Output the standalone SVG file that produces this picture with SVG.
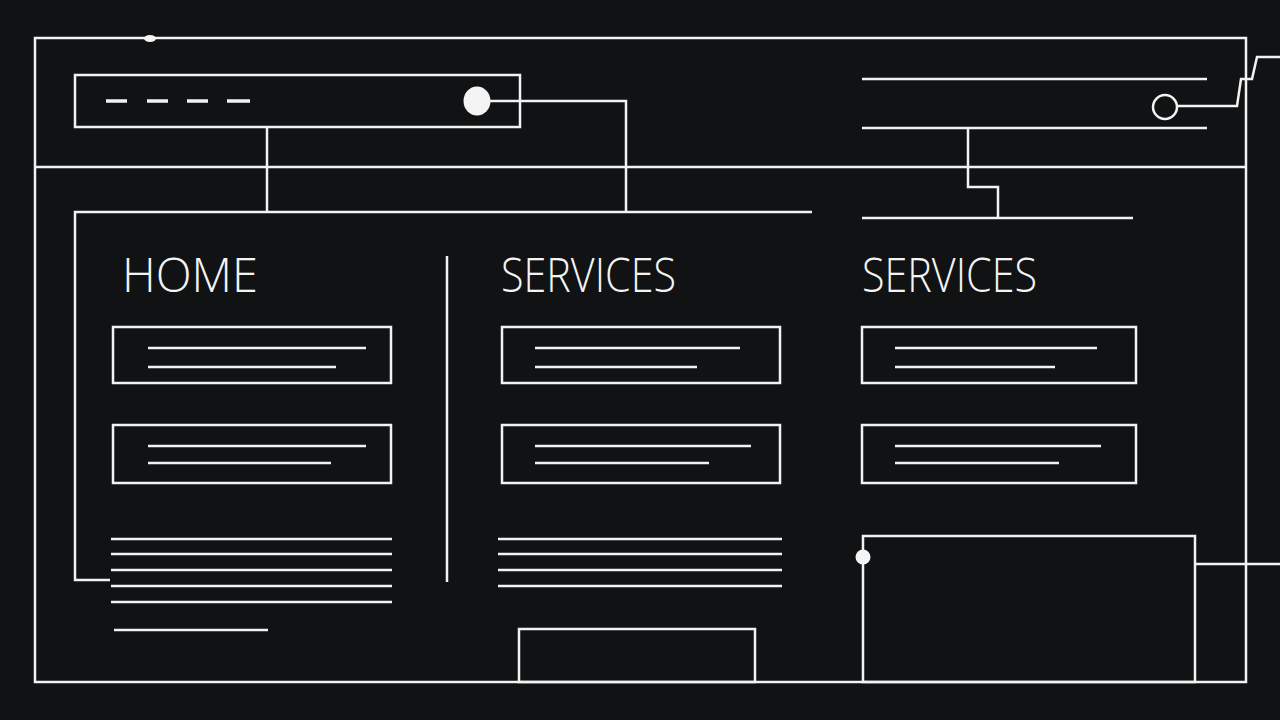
<svg xmlns="http://www.w3.org/2000/svg" width="1280" height="720" viewBox="0 0 1280 720">
<style>
.s{fill:none;stroke:#f2f2f2;stroke-width:2.5;stroke-linecap:butt;stroke-linejoin:miter}
.t{fill:#f4f4f4;font-family:"Open Sans","Lato","Liberation Sans",sans-serif;font-weight:300;font-size:47px}
.d{fill:#f4f4f4}
</style>
<rect width="1280" height="720" fill="#111213"/>
<g id="frame">
<rect class="s" x="35" y="38" width="1211" height="644"/>
<line class="s" x1="35" y1="167" x2="1246" y2="167"/>
<ellipse class="d" cx="150" cy="38.5" rx="6" ry="3.5"/>
</g>
<g id="searchbar">
<rect class="s" x="75" y="75" width="445" height="52"/>
<path class="s" d="M106 101H127M147 101H168M187 101H208M227 101H250" style="stroke-width:3.5"/>
<ellipse class="d" cx="477" cy="101" rx="13.5" ry="14.5"/>
</g>
<g id="topnav">
<line class="s" x1="862" y1="79" x2="1207" y2="79"/>
<line class="s" x1="862" y1="128" x2="1207" y2="128"/>
<circle class="s" cx="1165" cy="107" r="12"/>
<line class="s" x1="862" y1="218" x2="1133" y2="218"/>
</g>
<g id="home">
<text class="t" x="122" y="292" textLength="136" lengthAdjust="spacingAndGlyphs">HOME</text>
<rect class="s" x="113" y="327" width="278" height="56"/>
<path class="s" d="M148 348H366M148 367H336"/>
<rect class="s" x="113" y="425" width="278" height="58"/>
<path class="s" d="M148 446H366M148 463H331"/>
<path class="s" d="M111 539H392M111 554H392M111 570H392M111 586H392M111 602H392M114 630H268"/>
</g>
<g id="divider">
<line class="s" x1="447" y1="256" x2="447" y2="582"/>
</g>
<g id="services1">
<text class="t" x="501" y="292" textLength="175" lengthAdjust="spacingAndGlyphs">SERVICES</text>
<rect class="s" x="502" y="327" width="278" height="56"/>
<path class="s" d="M535 348H740M535 367H697"/>
<rect class="s" x="502" y="425" width="278" height="58"/>
<path class="s" d="M535 446H751M535 463H709"/>
<path class="s" d="M498 539H782M498 554H782M498 570H782M498 586H782"/>
<rect class="s" x="519" y="629" width="236" height="53"/>
</g>
<g id="services2">
<text class="t" x="862" y="292" textLength="175" lengthAdjust="spacingAndGlyphs">SERVICES</text>
<rect class="s" x="862" y="327" width="274" height="56"/>
<path class="s" d="M895 348H1097M895 367H1055"/>
<rect class="s" x="862" y="425" width="274" height="58"/>
<path class="s" d="M895 446H1101M895 463H1059"/>
<rect class="s" x="863" y="536" width="332" height="146"/>
<circle class="d" cx="863" cy="557" r="7.5"/>
</g>
<g id="connectors">
<path class="s" d="M490 101H626V212"/>
<path class="s" d="M267 127V212"/>
<path class="s" d="M812 212H75V580H110"/>
<path class="s" d="M968 128V187H998V218"/>
<path class="s" d="M1177 106H1237L1241 79H1252L1257 57H1280"/>
<path class="s" d="M1195 564H1280"/>
</g>
</svg>
